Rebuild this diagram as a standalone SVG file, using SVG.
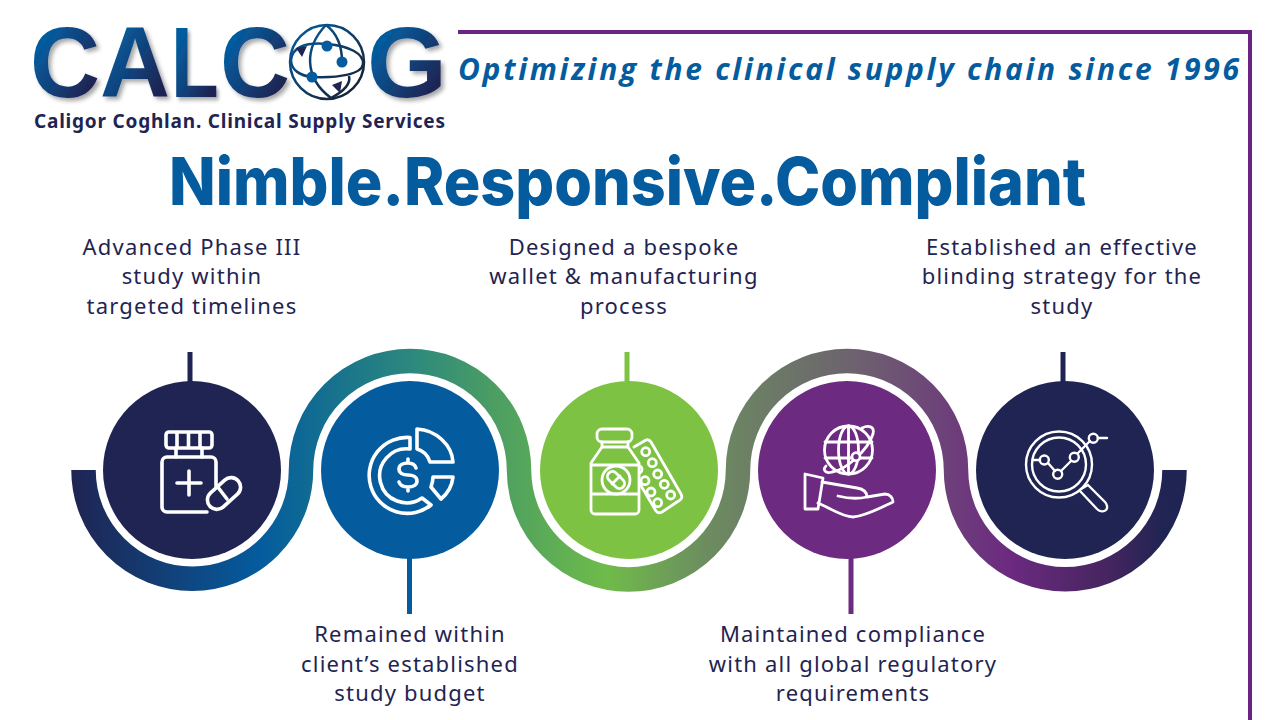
<svg xmlns="http://www.w3.org/2000/svg" width="1280" height="720" viewBox="0 0 1280 720">
<style>
.lbl{font-family:"Noto Sans","Open Sans",sans-serif;font-size:22px;fill:#1f2452;text-anchor:middle;letter-spacing:1.2px}
.ic{fill:none;stroke:#fff;stroke-width:3.6;stroke-linecap:round;stroke-linejoin:round}
.thin{stroke-width:2.8}
.fine{stroke-width:2.4}
.stem{fill:none;stroke-width:5}
.logo{font-family:"Liberation Sans",Arial,sans-serif;font-weight:700;font-size:100px;fill:url(#lg);filter:url(#sh)}
</style>
<defs>
<linearGradient id="rib" gradientUnits="userSpaceOnUse" x1="71" y1="0" x2="1187" y2="0">
<stop offset="0" stop-color="#1f2452"/><stop offset=".17" stop-color="#045c9e"/><stop offset=".2" stop-color="#0c6696"/><stop offset=".31" stop-color="#2e8a7c"/><stop offset=".38" stop-color="#4c9e62"/><stop offset=".48" stop-color="#6fbb4a"/><stop offset=".57" stop-color="#6c8c60"/><stop offset=".71" stop-color="#6d5f70"/><stop offset=".8" stop-color="#6d3a7c"/><stop offset=".84" stop-color="#6c2a80"/><stop offset=".93" stop-color="#45255f"/><stop offset=".98" stop-color="#1f2452"/>
</linearGradient>
<linearGradient id="lg" x1="0" y1="0" x2="1" y2="1">
<stop offset=".25" stop-color="#045c9e"/><stop offset=".8" stop-color="#1f2452"/>
</linearGradient>
<linearGradient id="gl" gradientUnits="userSpaceOnUse" x1="292" y1="30" x2="360" y2="100">
<stop offset="0" stop-color="#045c9e"/><stop offset="1" stop-color="#1a1a2a"/>
</linearGradient>
<filter id="sh" x="-10%" y="-10%" width="130%" height="130%"><feDropShadow dx="3" dy="3" stdDeviation="2" flood-color="#000" flood-opacity=".35"/></filter>
</defs>
<rect width="1280" height="720" fill="#fff"/>
<path id="frame" d="M458 32H1250V720" fill="none" stroke="#6a2583" stroke-width="4"/>
<g id="logo">
<text class="logo" x="30" y="97" textLength="70" lengthAdjust="spacingAndGlyphs">C</text>
<text class="logo" x="100" y="97" textLength="70" lengthAdjust="spacingAndGlyphs">A</text>
<text class="logo" transform="translate(171 97) scale(.78 1)">L</text>
<text class="logo" x="220" y="97" textLength="70" lengthAdjust="spacingAndGlyphs">C</text>
<text class="logo" x="367" y="97" textLength="80" lengthAdjust="spacingAndGlyphs">G</text>
<circle cx="327" cy="62" r="38" fill="#fff"/>
<g fill="none" stroke="url(#gl)" stroke-width="2.5">
<circle cx="327" cy="62" r="37"/>
<path d="M326 25C304 48 304 78 331 98C350 88 350 80 349 76"/>
<path d="M326 25C338 34 342 48 342 62"/>
<path d="M291 60C292 48 304 42 327 44C350 46 364 54 363 64C362 74 340 78 313 77C300 76 291 70 291 60"/>
</g>
<g fill="#045c9e"><circle cx="327" cy="46" r="5.500"/><circle cx="342" cy="62" r="5.500"/><circle cx="312" cy="77" r="5.500"/></g>
<path d="M307 46L296 48L302 57Z M342 81L332 85L340 93Z" fill="#1f2452"/>
<text x="34" y="128" textLength="411" style="font-family:'Noto Sans','Open Sans',sans-serif;font-weight:700;font-size:19px;fill:#1f2452">Caligor Coghlan. Clinical Supply Services</text>
</g>
<text id="tagline" x="458" y="80" textLength="781" style="font-family:'Open Sans','Noto Sans',sans-serif;font-weight:700;font-style:italic;font-size:30px;fill:#045c9e">Optimizing the clinical supply chain since 1996</text>
<text id="title" x="169" y="204.500" textLength="917" lengthAdjust="spacingAndGlyphs" style="font-family:Inter,'Open Sans',sans-serif;font-weight:800;font-size:66px;fill:#045c9e">Nimble.Responsive.Compliant</text>
<g id="connectors">
<path id="ribbon" d="M83.5 470A108.750 108.750 0 0 0 301 470A109 109 0 0 1 519 470A109 109 0 0 0 738 470A109 109 0 0 1 956 470A109 109 0 0 0 1174.500 470" fill="none" stroke="url(#rib)" stroke-width="24.500"/>
<path class="stem" stroke="#1f2452" d="M190 352V382"/>
<path class="stem" stroke="#045c9e" d="M409.500 556V614"/>
<path class="stem" stroke="#7dc242" d="M627 352V382"/>
<path class="stem" stroke="#6c2a80" d="M851 556V614"/>
<path class="stem" stroke="#1f2452" d="M1063 352V382"/>
</g>
<g id="node1">
<circle cx="192" cy="470" r="89" fill="#1f2452"/>
<g class="ic">
<rect x="166" y="432" width="46" height="16" rx="3"/>
<path d="M177 433V447M188.500 433V447M200 433V447M176 448V457M202 448V457"/>
<path d="M207 512H167a5 5 0 0 1-5-5V462a5 5 0 0 1 5-5H211a5 5 0 0 1 5 5V486"/>
<path d="M177 483H201M189 471V495"/>
<rect x="205" y="484" width="38" height="19" rx="9.500" transform="rotate(-42 224 493.500)"/>
<path d="M217 486L227 499"/>
</g>
<text class="lbl" x="192" y="255">Advanced Phase III</text>
<text class="lbl" x="192" y="284">study within</text>
<text class="lbl" x="192" y="314">targeted timelines</text>
</g>
<g id="node2">
<circle cx="410" cy="470" r="89" fill="#045c9e"/>
<g class="ic">
<path d="M410 437.500A38 38 0 1 0 431 505L422 498A27 27 0 1 1 410 449Z"/>
<path d="M417 429C436 430 452 445 453 462H430C428 455 424 451 417 449Z"/>
<path d="M433 477H453C452 486 447 494 441 499L431 487C432 484 433 481 433 477Z"/>
<path d="M416 468C415 465 412 463 408 463C403 463 399 465 399 469C399 473 403 475 408 475C413 475 417 477 417 481C417 485 413 487 408 487C403 487 400 485 399 482M408 459V463M408 487V491"/>
</g>
<text class="lbl" x="410" y="642">Remained within</text>
<text class="lbl" x="410" y="672">client’s established</text>
<text class="lbl" x="410" y="701">study budget</text>
</g>
<g id="node3">
<circle cx="629" cy="470" r="89" fill="#7dc242"/>
<g class="ic thin">
<rect x="597" y="429" width="35" height="13" rx="5"/>
<path d="M602 442V447L591 463V510a4 4 0 0 0 4 4H635a4 4 0 0 0 4-4V463L628 447V442M602 447H628M591 465H639M591 494H639"/>
<circle cx="616" cy="480" r="14"/>
<rect x="606" y="475" width="20" height="10" rx="5" transform="rotate(45 616 480)"/>
<path d="M612 484L620 476"/>
<path d="M634 447L646 440Q649 439 651 442L681 494Q683 498 680 500L662 512Q658 514 656 511L640 484"/>
<circle cx="645.700" cy="451.700" r="4"/><circle cx="652.300" cy="462.700" r="4"/><circle cx="657.700" cy="474" r="4"/><circle cx="664.300" cy="484.300" r="4"/><circle cx="670.700" cy="495" r="4"/><circle cx="657.700" cy="502.700" r="4"/><circle cx="651" cy="492" r="4"/><circle cx="645" cy="480.700" r="4"/>
<path d="M640 466a4 4 0 0 1 0 7"/>
</g>
<text class="lbl" x="624" y="255">Designed a bespoke</text>
<text class="lbl" x="624" y="284">wallet &amp; manufacturing</text>
<text class="lbl" x="624" y="314">process</text>
</g>
<g id="node4">
<circle cx="847" cy="470" r="89" fill="#6c2a80"/>
<g class="ic thin">
<circle cx="848.500" cy="450" r="24"/>
<ellipse cx="848.500" cy="450" rx="10" ry="24"/>
<path d="M848.500 426V474M825 442H872M825 458H872"/>
<path d="M826 466C822 470 826 474 832 472C846 470 868 450 873 434C875 426 868 425 862 428"/>
<circle cx="856" cy="456.700" r="4" fill="#6c2a80"/>
<path d="M805 474L823 478L818 509H805Z"/>
<path d="M822 482L857 488C863 489 867 492 867 497C858 499 846 498 838 496M867 497L885 494C890 494 893 498 893 502C880 508 866 516 853 517C842 517 830 508 818 503"/>
</g>
<text class="lbl" x="853" y="642">Maintained compliance</text>
<text class="lbl" x="853" y="672">with all global regulatory</text>
<text class="lbl" x="853" y="701">requirements</text>
</g>
<g id="node5">
<circle cx="1065" cy="470" r="89" fill="#1f2452"/>
<g class="ic fine">
<circle cx="1059" cy="464.500" r="33"/>
<circle cx="1059" cy="464.500" r="27"/>
<path d="M1033 460H1040M1048 463L1055 471M1061 471L1071 461M1078 453L1090 441M1098 438H1107"/>
<circle cx="1044.300" cy="460" r="4.500"/><circle cx="1057.700" cy="474.300" r="4.500"/><circle cx="1074.300" cy="457.300" r="4.500"/><circle cx="1093.300" cy="438.300" r="4.500"/>
<path d="M1081 489L1088 485M1080 491L1097 509C1100 512 1104 512 1106 510C1108 508 1107 504 1105 502L1088 485"/>
</g>
<text class="lbl" x="1062" y="255">Established an effective</text>
<text class="lbl" x="1062" y="284">blinding strategy for the</text>
<text class="lbl" x="1062" y="314">study</text>
</g>
</svg>
